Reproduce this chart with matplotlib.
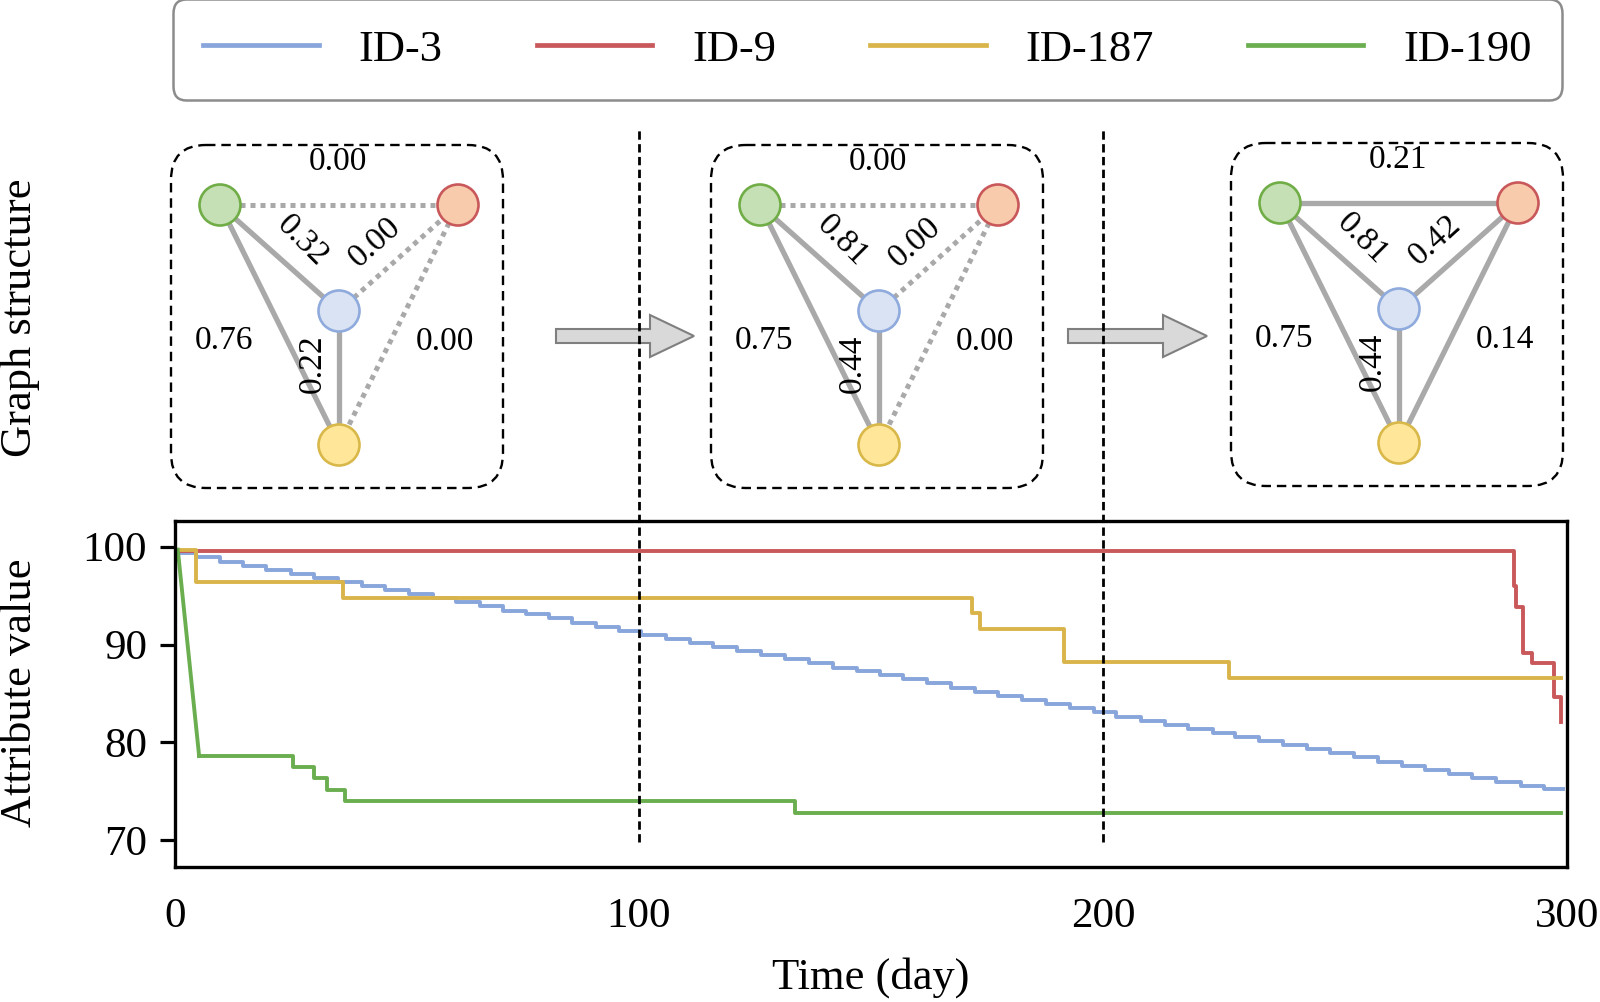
import matplotlib
matplotlib.use('Agg')
import matplotlib.pyplot as plt
from matplotlib.patches import Circle, FancyBboxPatch, FancyArrow

plt.rcParams['font.family'] = ['Liberation Serif', 'DejaVu Serif']

# ---- attribute curves: change days and levels ----
id3_t = [0.6, 4.6, 9.6, 14.7, 19.7, 24.9, 29.9, 35.1, 40.2, 45.2, 50.4,
         55.6, 60.6, 65.7, 70.7, 75.7, 80.6, 85.6, 90.7, 95.7, 100.5,
         105.8, 110.9, 115.9, 121.1, 126.4, 131.4, 136.6, 141.8, 146.9, 151.9,
         156.9, 162.1, 167.2, 172.4, 177.4, 182.5, 187.7, 192.8, 198.0, 202.9,
         208.1, 213.3, 218.3, 223.7, 228.4, 233.6, 238.8, 244.0, 249.0, 254.0,
         259.3, 264.4, 269.3, 274.5, 279.6, 284.8, 290.0, 295.0, 299.1]
id3_v = [99.39, 98.92, 98.47, 98.06, 97.62, 97.21, 96.80, 96.39, 95.98, 95.57, 95.16,
         94.75, 94.35, 93.94, 93.46, 93.09, 92.68, 92.23, 91.82, 91.41, 91.00,
         90.56, 90.15, 89.74, 89.30, 88.90, 88.49, 88.08, 87.63, 87.26, 86.88,
         86.44, 86.03, 85.58, 85.17, 84.77, 84.33, 83.92, 83.48, 83.07, 82.62,
         82.21, 81.77, 81.36, 80.98, 80.57, 80.16, 79.72, 79.31, 78.87, 78.47,
         78.02, 77.61, 77.20, 76.76, 76.35, 75.94, 75.53, 75.19, 75.19]

id9_t = [0.6, 288.5, 289.0, 290.6, 292.4, 297.1, 298.6]
id9_v = [99.6, 96.0, 93.8, 89.1, 88.1, 84.6, 82.1]

id187_t = [0.6, 4.6, 36.2, 171.8, 173.4, 191.5, 227.1, 298.8]
id187_v = [99.7, 96.4, 94.8, 93.2, 91.6, 88.2, 86.6, 86.6]

# first segment of ID-190 is a straight ramp, the rest are steps
id190_t = [0.6, 5.2, 25.4, 30.0, 32.8, 36.6, 133.6, 298.8]
id190_v = [99.7, 78.6, 77.5, 76.3, 75.1, 74.0, 72.8, 72.8]

labels = ['ID-3', 'ID-9', 'ID-187', 'ID-190']
colors = ['#88a6dc', '#c9585a', '#d9b44a', '#6aae50']

# ---- graph structure weights per snapshot ----
edges = [('g', 'r'), ('g', 'b'), ('b', 'r'), ('g', 'y'), ('b', 'y'), ('r', 'y')]
weights_1 = [0.00, 0.32, 0.00, 0.76, 0.22, 0.00]
weights_2 = [0.00, 0.81, 0.00, 0.75, 0.44, 0.00]
weights_3 = [0.21, 0.81, 0.42, 0.75, 0.44, 0.14]

node_fill = {'g': '#c5e0b4', 'r': '#f8cbad', 'b': '#dae3f3', 'y': '#ffe699'}
node_edge = {'g': '#70ad47', 'r': '#c9585a', 'b': '#8faadc', 'y': '#d9b84a'}

fig = plt.figure(figsize=(16, 10.02), dpi=100)

# overlay in pixel coordinates for the graph sketches
ov = fig.add_axes([0, 0, 1, 1], zorder=0)
ov.set_xlim(0, 1600)
ov.set_ylim(1002, 0)
ov.axis('off')

node_rel = {'g': (0, 0), 'r': (238, 0), 'b': (119, 106), 'y': (119, 240)}
lab_rel = [(118, -43, 0), (82, 36, -45), (155, 37, 42),
           (4, 136, 0), (93, 159, 90), (225, 137, 0)]
origins = [(220, 205), (760, 205), (1280, 203)]

for (ox, oy), w in zip(origins, [weights_1, weights_2, weights_3]):
    box = FancyBboxPatch((ox - 49, oy - 60), 332, 343,
                         boxstyle='round,pad=0,rounding_size=35',
                         fc='none', ec='black', lw=1.7, ls=(0, (4, 2.5)))
    ov.add_patch(box)
    for (a, b), wt, (lx, ly, rot) in zip(edges, w, lab_rel):
        xa, ya = ox + node_rel[a][0], oy + node_rel[a][1]
        xb, yb = ox + node_rel[b][0], oy + node_rel[b][1]
        if wt > 0:
            ov.plot([xa, xb], [ya, yb], color='#a9a9a9', lw=3.8,
                    solid_capstyle='butt', zorder=2)
        else:
            ov.plot([xa, xb], [ya, yb], color='#a9a9a9', lw=3.6,
                    ls=(0, (1, 1)), dash_capstyle='butt', zorder=2)
        ov.text(ox + lx, oy + ly, '%.2f' % wt, fontsize=24, rotation=rot,
                ha='center', va='center', rotation_mode='anchor', zorder=4)
    for n, (dx, dy) in node_rel.items():
        ov.add_patch(Circle((ox + dx, oy + dy), 20.5, fc=node_fill[n],
                            ec=node_edge[n], lw=1.9, zorder=3))

for x0, x1 in [(556, 694), (1068, 1207)]:
    ov.add_patch(FancyArrow(x0, 336, x1 - x0, 0, width=14, head_width=42,
                            head_length=44, length_includes_head=True,
                            fc='#d9d9d9', ec='#7f7f7f', lw=1.5))

# ---- attribute value plot ----
ax = fig.add_axes([175 / 1600, 135 / 1002, 1392 / 1600, 346 / 1002], zorder=1)
lw = 2.8
l1, = ax.step(id3_t, id3_v, where='post', color=colors[0], lw=lw)
l2, = ax.step(id9_t, id9_v, where='post', color=colors[1], lw=lw)
l3, = ax.step(id187_t, id187_v, where='post', color=colors[2], lw=lw)
l4, = ax.plot(id190_t[:2], id190_v[:2], color=colors[3], lw=lw)
ax.step(id190_t[1:], id190_v[1:], where='post', color=colors[3], lw=lw)

for xv in [100, 200]:
    ax.axvline(xv, ymin=0.072, ymax=2.139, color='black', lw=2.0,
               ls=(0, (3, 1.6)), clip_on=False, zorder=5)

ax.set_xlim(0, 300)
ax.set_ylim(67.25, 102.63)
ax.set_xticks([0, 100, 200, 300])
ax.set_yticks([70, 80, 90, 100])
ax.tick_params(axis='x', length=0, pad=22, labelsize=31)
ax.tick_params(axis='y', length=11, width=2.3, pad=9, labelsize=31)
for s in ax.spines.values():
    s.set_linewidth(2.4)
ax.set_xlabel('Time (day)', fontsize=32, labelpad=15)

fig.text(20 / 1600, 1 - 693 / 1002, 'Attribute value', rotation=90,
         fontsize=32, ha='center', va='center')
fig.text(20 / 1600, 1 - 318 / 1002, 'Graph structure', rotation=90,
         fontsize=32, ha='center', va='center')

leg = fig.legend([l1, l2, l3, l4], labels, loc='center', ncol=4, mode='expand',
                 bbox_to_anchor=(173 / 1600, 1 - 97 / 1002, 1389 / 1600, 95 / 1002),
                 borderaxespad=0, fontsize=32, handlelength=2.6, handletextpad=0.9,
                 borderpad=0.68, fancybox=True, framealpha=1)
leg.get_frame().set_edgecolor('#8c8c8c')
leg.get_frame().set_linewidth(1.8)
leg.get_frame().set_boxstyle('round,pad=0,rounding_size=0.3')
for h in leg.legend_handles:
    h.set_linewidth(3.4)

fig.savefig('out.png', dpi=100)
